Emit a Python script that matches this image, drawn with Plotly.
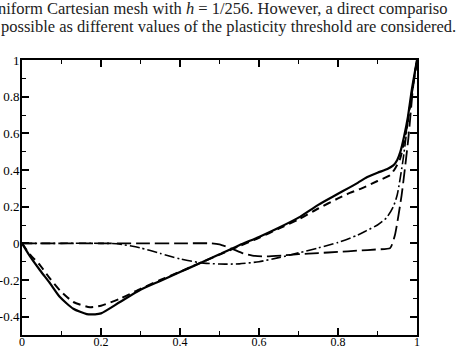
import plotly.graph_objects as go

# Solid curve
x_solid = [0, 0.02, 0.046, 0.07, 0.096, 0.13, 0.164, 0.185, 0.2, 0.248, 0.3, 0.35, 0.4, 0.45, 0.5, 0.55, 0.6, 0.65, 0.7, 0.75, 0.8, 0.85, 0.873, 0.9, 0.925, 0.94, 0.95, 0.958, 0.967, 0.977, 0.987, 1.0]
y_solid = [0, -0.07, -0.148, -0.215, -0.293, -0.357, -0.386, -0.387, -0.382, -0.32, -0.253, -0.205, -0.157, -0.108, -0.06, -0.01, 0.035, 0.085, 0.14, 0.21, 0.27, 0.33, 0.36, 0.385, 0.405, 0.425, 0.455, 0.5, 0.58, 0.69, 0.84, 1.0]

# Short-dashed curve
x_dash = [0, 0.02, 0.046, 0.07, 0.096, 0.13, 0.172, 0.2, 0.248, 0.3, 0.35, 0.4, 0.45, 0.5, 0.55, 0.6, 0.65, 0.7, 0.75, 0.8, 0.83, 0.86, 0.9, 0.932, 0.945, 0.957, 0.967, 0.977, 0.987, 1.0]
y_dash = [0, -0.06, -0.12, -0.19, -0.257, -0.32, -0.348, -0.34, -0.302, -0.248, -0.2, -0.155, -0.108, -0.062, -0.015, 0.03, 0.08, 0.13, 0.19, 0.245, 0.275, 0.3, 0.34, 0.372, 0.41, 0.46, 0.55, 0.67, 0.82, 1.0]

# Dash-dot curve
x_dashdot = [0, 0.1, 0.2, 0.24, 0.3, 0.35, 0.4, 0.45, 0.5, 0.55, 0.6, 0.65, 0.7, 0.75, 0.8, 0.85, 0.873, 0.9, 0.923, 0.94, 0.95, 0.965, 0.982, 1.0]
y_dashdot = [0, 0, 0, -0.002, -0.025, -0.055, -0.085, -0.105, -0.113, -0.112, -0.1, -0.078, -0.052, -0.025, 0.005, 0.045, 0.07, 0.1, 0.14, 0.2, 0.265, 0.46, 0.75, 1.0]

# Long-dashed curve
x_longdash = [0, 0.1, 0.2, 0.3, 0.4, 0.48, 0.5, 0.53, 0.56, 0.59, 0.62, 0.66, 0.7, 0.75, 0.8, 0.85, 0.9, 0.932, 0.944, 0.961, 0.978, 0.99, 1.0]
y_longdash = [0, 0, 0, 0, 0, 0, -0.006, -0.028, -0.055, -0.069, -0.071, -0.066, -0.059, -0.053, -0.047, -0.04, -0.033, -0.026, 0.044, 0.262, 0.57, 0.85, 1.0]

x_ticks = [0, 0.2, 0.4, 0.6, 0.8, 1]
x_labels = ["0", "0.2", "0.4", "0.6", "0.8", "1"]
y_ticks = [-0.4, -0.2, 0, 0.2, 0.4, 0.6, 0.8, 1]
y_labels = ["-0.4", "-0.2", "0", "0.2", "0.4", "0.6", "0.8", "1"]

text_line1 = "niform Cartesian mesh with <i>h</i> = 1/256. However, a direct compariso"
text_line2 = "possible as different values of the plasticity threshold are considered."

SERIF = "Liberation Serif, Times New Roman, serif"

fig = go.Figure()
common = dict(mode="lines", line_shape="spline", showlegend=False, hoverinfo="skip")
fig.add_trace(go.Scatter(x=x_solid, y=y_solid, line=dict(color="black", width=2.2, dash="solid", smoothing=0.6), **common))
fig.add_trace(go.Scatter(x=x_dash, y=y_dash, line=dict(color="black", width=2, dash="8px,5px", smoothing=0.6), **common))
fig.add_trace(go.Scatter(x=x_dashdot, y=y_dashdot, line=dict(color="black", width=1.6, dash="10px,3px,2px,3px", smoothing=0.6), **common))
fig.add_trace(go.Scatter(x=x_longdash, y=y_longdash, line=dict(color="black", width=1.8, dash="14px,5px", smoothing=0.5), **common))

L, R, T, B = 22, 417, 60, 335
W, H = 474, 348
pw, ph = R - L, B - T

axis_common = dict(
    showgrid=False, zeroline=False, showline=True, linecolor="black", linewidth=2,
    mirror="ticks", ticks="inside", ticklen=7, tickwidth=1.5, tickcolor="black",
    minor=dict(ticks="inside", ticklen=4, tickwidth=1.2, tickcolor="black", dtick=0.1, showgrid=False),
    automargin=False,
)
fig.update_xaxes(range=[0, 1], tickvals=x_ticks, ticktext=x_labels, ticklabelstandoff=-5,
                 tickfont=dict(family=SERIF, size=12, color="black"), **axis_common)
fig.update_yaxes(range=[-0.5, 1], tickvals=y_ticks, ticktext=y_labels, ticklabelstandoff=-2,
                 tickfont=dict(family=SERIF, size=13, color="black"), **axis_common)

fig.add_annotation(text=text_line1, xref="paper", yref="paper", x=(-3 - L) / pw, y=(B - 9) / ph,
                   xanchor="left", yanchor="middle", align="left", showarrow=False, borderpad=0,
                   font=dict(family=SERIF, size=16.5, color="#222"))
fig.add_annotation(text=text_line2, xref="paper", yref="paper", x=(0 - L) / pw, y=(B - 27) / ph,
                   xanchor="left", yanchor="middle", align="left", showarrow=False, borderpad=0,
                   font=dict(family=SERIF, size=16.5, color="#222"))

fig.update_layout(
    template="none",
    width=W, height=H, margin=dict(l=L, r=W - R, t=T, b=H - B),
    plot_bgcolor="white", paper_bgcolor="white",
)
fig.write_html("out.html")
